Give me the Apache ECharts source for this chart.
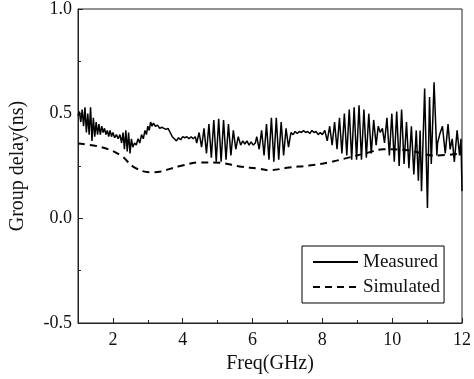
<!DOCTYPE html>
<html>
<head>
<meta charset="utf-8">
<script src="https://cdn.jsdelivr.net/npm/echarts@6/dist/echarts.min.js"></script>
<style>html,body{margin:0;padding:0;background:#fff}#c{width:474px;height:379px}</style>
</head>
<body>
<div id="c"></div>
<script>
const measuredFreq = [1.00,1.04,1.08,1.12,1.16,1.20,1.24,1.28,1.32,1.36,1.40,1.44,1.48,1.52,1.56,1.60,1.64,1.68,1.72,1.76,1.80,1.84,1.88,1.92,1.96,2.00,2.05,2.10,2.15,2.20,
2.25,2.29,2.33,2.37,2.41,2.45,2.49,2.53,2.57,2.62,2.67,2.72,2.77,2.82,2.87,2.92,2.96,3.00,3.04,3.08,3.12,3.16,3.22,3.28,3.34,3.40,3.46,3.52,3.58,3.64,3.70,3.76,3.82,3.88,3.94,4.00,4.06,4.12,4.18,4.24,4.30,4.36,
4.40,4.47,4.54,4.61,4.68,4.75,4.82,4.89,4.96,5.03,5.10,5.17,5.24,5.31,5.38,5.45,5.52,5.59,5.66,5.72,5.78,5.84,5.90,5.96,6.02,6.08,
6.12,6.19,6.26,6.33,6.40,6.47,6.54,6.61,6.68,6.75,6.82,6.89,6.96,7.03,7.10,7.16,7.22,7.28,7.34,7.40,7.46,7.52,7.58,7.64,7.70,7.76,7.82,7.88,7.94,8.00,
8.07,8.14,8.21,8.28,8.35,8.42,8.49,8.56,8.63,8.70,8.77,8.84,8.91,8.98,9.05,9.12,9.19,9.26,9.33,9.40,9.47,9.54,9.60,9.66,9.72,
9.78,9.85,9.92,9.99,10.06,10.13,10.20,10.27,10.34,10.41,10.48,10.55,10.62,10.69,10.75,10.80,10.84,10.93,11.01,11.07,11.12,11.20,11.28,
11.30,11.36,11.44,11.52,11.60,11.66,11.72,11.78,11.86,11.93,11.97,12.00];
const measuredDelay = [0.49,0.51,0.46,0.52,0.44,0.53,0.41,0.50,0.40,0.53,0.37,0.48,0.39,0.46,0.40,0.45,0.40,0.44,0.41,0.43,0.40,0.42,0.39,0.42,0.39,0.41,0.385,0.40,0.38,0.40,
0.36,0.41,0.33,0.42,0.32,0.41,0.31,0.38,0.34,0.36,0.35,0.38,0.36,0.40,0.38,0.42,0.40,0.44,0.42,0.46,0.44,0.455,0.44,0.445,0.43,0.435,0.43,0.425,0.43,0.41,0.39,0.38,0.37,0.385,0.375,0.39,0.385,0.39,0.38,0.39,0.38,0.39,
0.36,0.41,0.34,0.43,0.31,0.45,0.29,0.47,0.27,0.475,0.27,0.47,0.28,0.45,0.30,0.42,0.33,0.39,0.35,0.37,0.355,0.37,0.35,0.365,0.35,0.36,
0.39,0.33,0.42,0.30,0.45,0.28,0.48,0.27,0.48,0.28,0.46,0.30,0.43,0.34,0.41,0.40,0.415,0.405,0.415,0.41,0.42,0.41,0.415,0.405,0.42,0.41,0.415,0.40,0.41,0.40,
0.42,0.37,0.44,0.35,0.46,0.33,0.48,0.31,0.50,0.30,0.52,0.28,0.53,0.28,0.54,0.28,0.52,0.29,0.50,0.31,0.47,0.35,0.44,0.41,0.43,
0.36,0.48,0.30,0.50,0.27,0.51,0.25,0.52,0.26,0.46,0.24,0.44,0.21,0.42,0.18,0.42,0.13,0.62,0.05,0.58,0.26,0.65,0.30,
0.36,0.40,0.44,0.31,0.45,0.33,0.38,0.27,0.42,0.30,0.38,0.13];
const simFreq = [1.0,1.67,2.23,2.6,3.08,3.37,3.93,4.5,5.07,5.63,6.14,6.48,7.05,7.61,8.18,8.75,9.31,9.74,10.45,11.21,12.0];
const simDelay = [0.357,0.34,0.30,0.245,0.22,0.224,0.25,0.267,0.265,0.248,0.238,0.23,0.243,0.252,0.267,0.29,0.314,0.33,0.325,0.30,0.31];
const xMajorTicks = [2,4,6,8,10,12];

const FONT = '"Liberation Serif","Times New Roman",serif';
const chart = echarts.init(document.getElementById('c'), null, {renderer:'canvas'});
const axisCol = '#222';
chart.setOption({
  animation:false,
  backgroundColor:'#fff',
  grid:{left:76,right:9,top:8,bottom:56,show:true,borderColor:axisCol,borderWidth:1,backgroundColor:'transparent'},
  legend:{
    orient:'vertical', left:302, top:246, padding:[6,4,6,10],
    borderColor:'#000', borderWidth:1, itemWidth:45, itemHeight:14, itemGap:5,
    itemStyle:{opacity:0},
    textStyle:{fontFamily:FONT,fontSize:19,color:'#111',lineHeight:20},
    data:[{name:'Measured'},{name:'Simulated'}]
  },
  xAxis:[{
    type:'value', min:1, max:12, interval:1,
    name:'Freq(GHz)', nameLocation:'middle', nameGap:30,
    nameTextStyle:{fontFamily:FONT,fontSize:20,color:'#111'},
    axisLine:{onZero:false,lineStyle:{color:axisCol,width:1}},
    axisTick:{inside:true,length:3,lineStyle:{color:axisCol}},
    axisLabel:{fontFamily:FONT,fontSize:18,color:'#111',margin:8,
      formatter:v=> xMajorTicks.indexOf(v)>=0 ? String(v) : ''},
    splitLine:{show:false}
  },{
    type:'value', min:1, max:12, position:'bottom',
    axisLine:{show:false,onZero:false},
    axisTick:{inside:true,length:5,customValues:xMajorTicks,lineStyle:{color:axisCol}},
    axisLabel:{show:false},
    splitLine:{show:false}
  }],
  yAxis:{
    type:'value', min:-0.5, max:1.0, interval:0.5,
    name:'Group delay(ns)', nameLocation:'middle', nameGap:50,
    nameTextStyle:{fontFamily:FONT,fontSize:20,color:'#111'},
    axisLine:{onZero:false,lineStyle:{color:axisCol,width:1}},
    axisTick:{inside:true,length:5,lineStyle:{color:axisCol}},
    minorTick:{show:true,splitNumber:2,length:3,lineStyle:{color:axisCol}},
    axisLabel:{fontFamily:FONT,fontSize:18,color:'#111',margin:6,formatter:v=>v.toFixed(1)},
    splitLine:{show:false}
  },
  series:[{
    name:'Measured', type:'line', xAxisIndex:0, symbol:'none', showSymbol:false,
    lineStyle:{color:'#000',width:1.5},
    itemStyle:{color:'#000'},
    data: measuredFreq.map((f,i)=>[f,measuredDelay[i]])
  },{
    name:'Simulated', type:'line', xAxisIndex:0, symbol:'none', showSymbol:false, smooth:0.4,
    lineStyle:{color:'#000',width:2,type:[7,5]},
    itemStyle:{color:'#000'},
    data: simFreq.map((f,i)=>[f,simDelay[i]])
  }]
});
</script>
</body>
</html>
